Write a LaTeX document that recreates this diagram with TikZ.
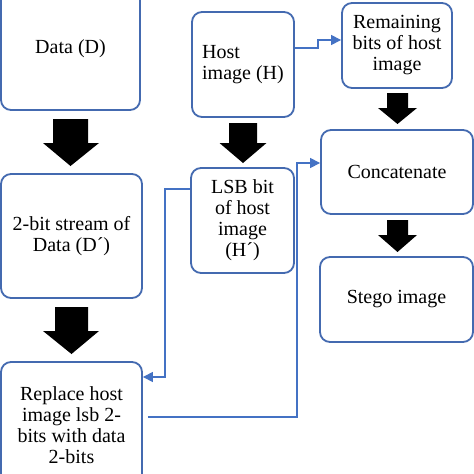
\documentclass[tikz,border=0pt]{standalone}
\usepackage{fontspec}
\setmainfont{Liberation Serif}
\usetikzlibrary{arrows.meta}
\definecolor{boxblue}{RGB}{68,106,176}
\definecolor{linkblue}{RGB}{68,114,196}
\tikzset{
  stepbox/.style={draw=boxblue, line width=1.8pt, rounded corners=10pt, fill=white,
    align=center, inner sep=2pt, font=\fontsize{20}{21}\selectfont},
  conn/.style={draw=linkblue, line width=1.1pt, -{Triangle[length=10pt,width=10pt]}},
  blockarrow/.style={fill=black}
}
\begin{document}
\begin{tikzpicture}[x=1pt,y=-1pt]
\useasboundingbox (0,0) rectangle (474,474);
\clip (0,0) rectangle (474,474);
\fill[white] (0,0) rectangle (474,474);
% boxes
\node[stepbox, minimum width=139pt, minimum height=122pt] (data) at (70.5,49) {Data (D)};
\node[stepbox, minimum width=141pt, minimum height=124pt] (stream) at (71.5,236) {2-bit stream of\\Data (D´)};
\node[stepbox, minimum width=141pt, minimum height=127pt] (rep) at (71.5,425.5) {Replace host\\image lsb 2-\\bits with data\\2-bits};
\node[stepbox, minimum width=102pt, minimum height=105pt, align=left] (host) at (243,64.5) {Host\\image (H)};
\node[stepbox, minimum width=103pt, minimum height=105pt] (lsb) at (242.5,220.5) {LSB bit\\of host\\image\\(H´)};
\node[stepbox, minimum width=110pt, minimum height=85pt] (rem) at (397,45.5) {Remaining\\bits of host\\image};
\node[stepbox, minimum width=152pt, minimum height=84pt] (conc) at (397,172) {Concatenate};
\node[stepbox, minimum width=153pt, minimum height=85pt] (stego) at (396.5,299.5) {Stego image};
% block arrows
\fill[blockarrow] (53,119) -- (88,119) -- (88,143) -- (99,143) -- (70.5,166) -- (43,143) -- (53,143) -- cycle;
\fill[blockarrow] (55,307) -- (88,307) -- (88,331) -- (99,331) -- (71.5,354) -- (43,331) -- (55,331) -- cycle;
\fill[blockarrow] (229,123) -- (257,123) -- (257,143) -- (266.5,143) -- (243,163) -- (219.5,143) -- (229,143) -- cycle;
\fill[blockarrow] (387,93) -- (408,93) -- (408,108) -- (417,108) -- (397.5,124) -- (378,108) -- (387,108) -- cycle;
\fill[blockarrow] (387,220) -- (408,220) -- (408,235) -- (417,235) -- (397.5,252) -- (378,235) -- (387,235) -- cycle;
% thin connectors
\draw[conn] (host.east |- 0,48) -| (318,44) |- (rem.west |- 0,40);
\draw[conn] (lsb.west |- 0,189) -| (165,300) |- (rep.east |- 0,377);
\draw[conn] ([xshift=5pt]rep.east |- 0,417) -| (297,300) |- (conc.west |- 0,163);
\end{tikzpicture}
\end{document}
